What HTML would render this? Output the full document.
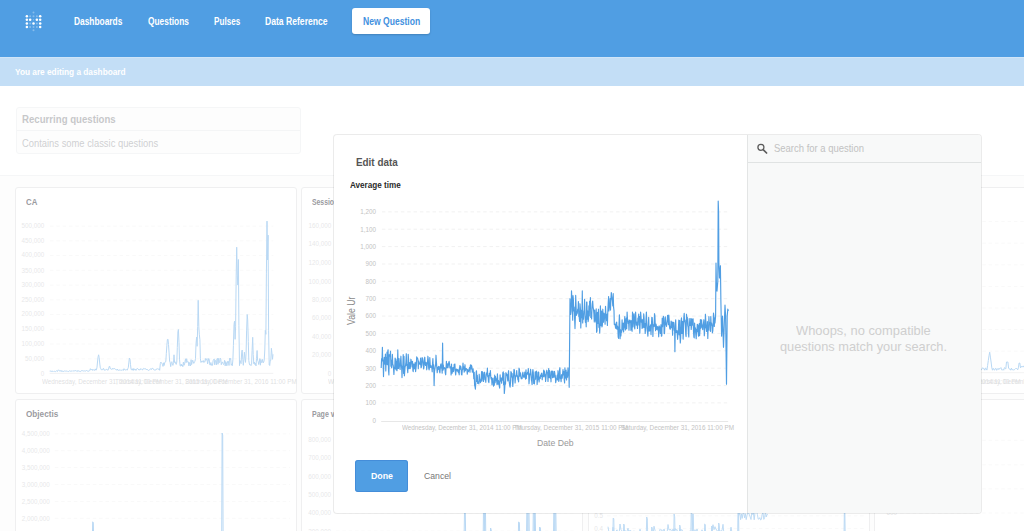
<!DOCTYPE html>
<html><head><meta charset="utf-8"><title>Dashboard</title>
<style>
html,body{margin:0;padding:0;}
body{width:1024px;height:531px;overflow:hidden;position:relative;background:#fff;font-family:"Liberation Sans", sans-serif;}
.abs{position:absolute;}
.t{position:absolute;white-space:nowrap;font-family:"Liberation Sans", sans-serif;}
.card{position:absolute;box-sizing:border-box;background:#fff;border:1px solid #d6d8da;border-radius:3px;}
#nav{position:absolute;left:0;top:0;width:1024px;height:57px;background:#509EE3;}
#edit{position:absolute;left:0;top:57px;width:1024px;height:28.5px;background:#C3DEF6;box-shadow:inset 0 1px 0 rgba(255,255,255,.22);}
#newq{position:absolute;left:352px;top:8.3px;width:78px;height:26px;background:#fff;border-radius:3px;box-shadow:0 1px 2px rgba(0,0,0,.18);}
#page{position:absolute;left:0;top:85px;width:1024px;height:446px;background:#fff;}
#dash{position:absolute;left:0;top:175px;width:1024px;height:356px;background:#f9fafb;border-top:1px solid #e6e8ea;box-sizing:border-box;}
#hdr{position:absolute;left:15.5px;top:106.6px;width:285.5px;height:47.8px;box-sizing:border-box;border:1px solid #e6e8ea;border-radius:3px;background:#fafafb;}
#hdr i{position:absolute;left:0;right:0;top:22.8px;height:1px;background:#e4e6e8;}
#veil{position:absolute;left:0;top:85px;width:1024px;height:446px;background:rgba(255,255,255,.6);}
#modal{position:absolute;left:334.2px;top:134.6px;width:647.2px;height:378.6px;background:#fff;border-radius:3px;box-shadow:0 0 0 1px rgba(0,0,0,.065),0 0 2px rgba(0,0,0,.05);overflow:hidden;}
#side{position:absolute;left:413px;top:0;width:234.2px;height:378.6px;background:#F8F9F9;border-left:1px solid #e3e5e5;box-sizing:border-box;}
#side i{position:absolute;left:0;right:0;top:27.2px;height:1px;background:#e0e3e3;}
#done{position:absolute;left:355.2px;top:460.2px;width:53.2px;height:32px;background:#509EE3;border-radius:3px;box-shadow:inset 0 0 0 1px rgba(60,130,210,.6);}
</style></head>
<body>
<div id="page"></div>
<div id="dash"></div>
<div id="hdr"><i></i></div>
<div class="card" style="left:14.7px;top:186.6px;width:282.4px;height:207.4px"></div><div class="card" style="left:14.7px;top:398.6px;width:282.4px;height:207.4px"></div><div class="card" style="left:301.1px;top:186.6px;width:282.4px;height:207.4px"></div><div class="card" style="left:301.1px;top:398.6px;width:282.4px;height:207.4px"></div><div class="card" style="left:587.5px;top:186.6px;width:282.4px;height:207.4px"></div><div class="card" style="left:587.5px;top:398.6px;width:282.4px;height:207.4px"></div><div class="card" style="left:873.9px;top:186.6px;width:282.4px;height:207.4px"></div><div class="card" style="left:873.9px;top:398.6px;width:282.4px;height:207.4px"></div>
<svg class="abs" width="1024" height="531" viewBox="0 0 1024 531" style="left:0;top:0">
<line x1="50" x2="273.3" y1="358.8" y2="358.8" stroke="#efefef" stroke-width="1" stroke-dasharray="3.5,2.83"/><line x1="50" x2="273.3" y1="344.0" y2="344.0" stroke="#efefef" stroke-width="1" stroke-dasharray="3.5,2.83"/><line x1="50" x2="273.3" y1="329.3" y2="329.3" stroke="#efefef" stroke-width="1" stroke-dasharray="3.5,2.83"/><line x1="50" x2="273.3" y1="314.5" y2="314.5" stroke="#efefef" stroke-width="1" stroke-dasharray="3.5,2.83"/><line x1="50" x2="273.3" y1="299.8" y2="299.8" stroke="#efefef" stroke-width="1" stroke-dasharray="3.5,2.83"/><line x1="50" x2="273.3" y1="285.1" y2="285.1" stroke="#efefef" stroke-width="1" stroke-dasharray="3.5,2.83"/><line x1="50" x2="273.3" y1="270.3" y2="270.3" stroke="#efefef" stroke-width="1" stroke-dasharray="3.5,2.83"/><line x1="50" x2="273.3" y1="255.6" y2="255.6" stroke="#efefef" stroke-width="1" stroke-dasharray="3.5,2.83"/><line x1="50" x2="273.3" y1="240.8" y2="240.8" stroke="#efefef" stroke-width="1" stroke-dasharray="3.5,2.83"/><line x1="50" x2="273.3" y1="226.1" y2="226.1" stroke="#efefef" stroke-width="1" stroke-dasharray="3.5,2.83"/>
<line x1="49.7" x2="273.3" y1="373.4" y2="373.4" stroke="#d6d6d8" stroke-width="0.8"/>
<path d="M49.7,371.2 L50.2,371.4 L50.8,370.8 L51.3,371.5 L51.9,371.0 L52.4,371.2 L53.0,371.5 L53.5,371.0 L54.1,371.6 L54.6,371.1 L55.2,371.5 L55.7,371.5 L56.3,371.1 L56.8,370.6 L57.4,371.5 L57.9,370.7 L58.5,369.8 L59.0,370.5 L59.6,370.9 L60.1,371.1 L60.7,370.5 L61.2,371.6 L61.8,370.6 L62.3,371.3 L62.9,371.4 L63.4,371.5 L64.0,371.3 L64.5,370.7 L65.1,371.4 L65.6,370.9 L66.2,370.9 L66.7,371.2 L67.3,371.0 L67.8,371.5 L68.4,371.5 L68.9,371.4 L69.5,370.8 L70.0,371.1 L70.6,371.2 L71.1,370.9 L71.7,371.1 L72.2,371.3 L72.8,370.7 L73.3,370.8 L73.9,371.3 L74.4,370.9 L75.0,371.0 L75.5,370.6 L76.1,370.8 L76.6,371.3 L77.2,370.5 L77.7,371.5 L78.3,371.1 L78.8,370.7 L79.4,371.4 L79.9,371.0 L80.5,371.6 L81.0,370.8 L81.6,370.7 L82.1,370.9 L82.7,370.6 L83.2,371.2 L83.8,370.8 L84.3,370.9 L84.9,370.9 L85.4,371.1 L86.0,370.6 L86.5,370.5 L87.1,371.1 L87.6,370.8 L88.2,371.5 L88.7,370.8 L89.3,370.9 L89.8,370.4 L90.4,368.7 L90.9,369.8 L91.5,369.6 L92.0,369.1 L92.6,370.4 L93.1,369.5 L93.7,370.1 L94.2,370.2 L94.8,370.3 L95.3,368.9 L95.9,370.2 L96.4,369.9 L97.0,367.2 L97.5,362.0 L98.1,356.8 L98.6,354.8 L99.2,357.6 L99.7,363.0 L100.3,367.9 L100.8,368.7 L101.4,369.9 L101.9,369.6 L102.5,369.7 L103.0,368.6 L103.6,368.5 L104.1,370.1 L104.7,370.1 L105.2,370.0 L105.8,370.0 L106.3,369.4 L106.9,369.2 L107.4,369.9 L108.0,370.4 L108.5,369.4 L109.1,366.8 L109.6,366.1 L110.2,368.2 L110.7,369.0 L111.3,369.4 L111.8,369.2 L112.4,368.4 L112.9,369.3 L113.5,368.6 L114.0,368.8 L114.6,368.6 L115.1,368.8 L115.7,369.6 L116.2,369.6 L116.8,370.2 L117.3,369.1 L117.9,370.3 L118.4,370.3 L119.0,370.0 L119.5,370.1 L120.1,369.7 L120.6,370.3 L121.2,370.4 L121.7,370.1 L122.3,370.2 L122.8,369.7 L123.4,370.4 L123.9,368.6 L124.5,369.2 L125.0,370.1 L125.6,369.9 L126.1,369.7 L126.7,369.7 L127.2,370.2 L127.8,368.7 L128.3,367.6 L128.9,362.1 L129.4,358.0 L130.0,359.3 L130.5,364.7 L131.1,369.5 L131.6,369.9 L132.2,368.7 L132.7,370.1 L133.3,370.4 L133.8,368.5 L134.4,369.3 L134.9,370.1 L135.5,369.3 L136.0,370.4 L136.6,369.3 L137.1,368.4 L137.7,368.7 L138.2,369.0 L138.8,369.9 L139.3,369.7 L139.9,370.1 L140.4,368.8 L141.0,369.3 L141.5,368.8 L142.1,369.8 L142.6,370.0 L143.2,368.8 L143.7,368.4 L144.3,368.7 L144.8,368.8 L145.4,368.7 L145.9,368.9 L146.5,370.0 L147.0,369.4 L147.6,369.7 L148.2,370.4 L148.7,370.4 L149.3,369.9 L149.8,369.9 L150.4,369.0 L150.9,368.5 L151.5,369.5 L152.0,368.5 L152.6,368.4 L153.1,368.5 L153.7,369.7 L154.2,370.0 L154.8,370.0 L155.3,370.0 L155.9,370.0 L156.4,369.1 L157.0,368.6 L157.5,368.7 L158.1,369.4 L158.6,369.1 L159.2,368.8 L159.7,370.3 L160.3,363.6 L160.8,362.1 L161.4,362.9 L161.9,363.1 L162.5,364.7 L163.0,366.4 L163.6,362.8 L164.1,365.5 L164.7,362.8 L165.2,361.8 L165.8,361.7 L166.3,353.7 L166.9,345.2 L167.4,339.5 L168.0,339.2 L168.5,344.5 L169.1,352.9 L169.6,361.0 L170.2,362.7 L170.7,366.6 L171.3,362.6 L171.8,361.7 L172.4,363.6 L172.9,365.4 L173.5,362.5 L174.0,354.8 L174.6,362.5 L175.1,361.8 L175.7,363.7 L176.2,364.4 L176.8,362.0 L177.3,347.6 L177.9,332.0 L178.4,329.5 L179.0,342.8 L179.5,359.2 L180.1,365.8 L180.6,366.1 L181.2,364.0 L181.7,366.0 L182.3,365.0 L182.8,366.7 L183.4,362.1 L183.9,365.4 L184.5,364.8 L185.0,361.4 L185.6,358.8 L186.1,362.7 L186.7,358.7 L187.2,362.0 L187.8,361.8 L188.3,361.8 L188.9,365.9 L189.4,362.5 L190.0,364.6 L190.5,366.0 L191.1,359.7 L191.6,364.6 L192.2,362.2 L192.7,360.2 L193.3,361.6 L193.8,363.4 L194.4,361.9 L194.9,361.6 L195.5,358.4 L196.0,343.8 L196.6,337.2 L197.1,346.3 L197.7,326.4 L198.2,300.3 L198.8,326.4 L199.3,334.2 L199.9,339.7 L200.4,358.8 L201.0,362.5 L201.5,361.1 L202.1,362.0 L202.6,361.9 L203.2,360.5 L203.7,362.4 L204.3,361.8 L204.8,362.2 L205.4,358.5 L205.9,360.4 L206.5,359.0 L207.0,358.5 L207.6,363.9 L208.1,361.6 L208.7,358.5 L209.2,359.3 L209.8,364.9 L210.3,365.0 L210.9,362.5 L211.4,365.4 L212.0,364.1 L212.5,365.4 L213.1,360.7 L213.6,359.8 L214.2,358.9 L214.7,364.8 L215.3,360.3 L215.8,360.8 L216.4,364.9 L216.9,359.0 L217.5,358.3 L218.0,364.3 L218.6,358.4 L219.1,362.8 L219.7,362.1 L220.2,358.1 L220.8,359.4 L221.3,364.7 L221.9,362.6 L222.4,361.9 L223.0,363.3 L223.5,364.5 L224.1,363.5 L224.6,360.3 L225.2,365.9 L225.7,361.6 L226.3,362.5 L226.8,365.9 L227.4,363.4 L227.9,361.0 L228.5,361.9 L229.0,365.5 L229.6,358.2 L230.1,359.7 L230.7,358.3 L231.2,365.2 L231.8,363.9 L232.3,365.7 L232.9,359.8 L233.4,345.5 L234.0,324.6 L234.5,321.2 L235.1,339.3 L235.6,326.8 L236.2,275.1 L236.7,247.2 L237.3,275.1 L237.8,285.1 L238.4,259.5 L238.9,325.4 L239.5,365.6 L240.0,360.5 L240.6,362.6 L241.1,363.6 L241.7,352.1 L242.2,350.0 L242.8,359.6 L243.3,365.3 L243.9,359.2 L244.4,352.2 L245.0,358.4 L245.5,362.4 L246.1,353.1 L246.6,330.9 L247.2,314.5 L247.7,319.9 L248.3,341.4 L248.8,360.6 L249.4,364.1 L249.9,365.1 L250.5,364.7 L251.0,365.6 L251.6,364.4 L252.1,350.4 L252.7,337.3 L253.2,354.5 L253.8,363.7 L254.3,362.0 L254.9,364.6 L255.4,363.3 L256.0,365.9 L256.5,358.7 L257.1,350.5 L257.6,360.2 L258.2,361.6 L258.7,364.5 L259.3,362.2 L259.8,358.6 L260.4,365.2 L260.9,359.5 L261.5,362.6 L262.0,362.1 L262.6,359.4 L263.1,362.9 L263.7,362.0 L264.2,360.5 L264.8,350.0 L265.3,330.4 L265.9,334.3 L266.4,273.9 L267.0,221.1 L267.5,260.0 L268.1,235.1 L268.6,330.8 L269.2,365.0 L269.7,365.5 L270.3,360.1 L270.8,360.4 L271.4,348.3 L271.9,352.7 L272.5,359.3 L273.0,354.3" fill="none" stroke="#509EE3" stroke-width="1"/>
<line x1="54.8" x2="290" y1="433.8" y2="433.8" stroke="#efefef" stroke-width="1" stroke-dasharray="3.5,2.83"/><line x1="54.8" x2="290" y1="450.7" y2="450.7" stroke="#efefef" stroke-width="1" stroke-dasharray="3.5,2.83"/><line x1="54.8" x2="290" y1="467.6" y2="467.6" stroke="#efefef" stroke-width="1" stroke-dasharray="3.5,2.83"/><line x1="54.8" x2="290" y1="484.5" y2="484.5" stroke="#efefef" stroke-width="1" stroke-dasharray="3.5,2.83"/><line x1="54.8" x2="290" y1="501.4" y2="501.4" stroke="#efefef" stroke-width="1" stroke-dasharray="3.5,2.83"/><line x1="54.8" x2="290" y1="518.3" y2="518.3" stroke="#efefef" stroke-width="1" stroke-dasharray="3.5,2.83"/><line x1="54.8" x2="290" y1="535.2" y2="535.2" stroke="#efefef" stroke-width="1" stroke-dasharray="3.5,2.83"/>
<path d="M221.7,540 L222.1,433.0 L222.7,435.0 L223.1,540 M92.3,540 L92.7,521.8 L93.3,522.6 L93.7,540 " fill="none" stroke="#509EE3" stroke-width="1"/>
<line x1="336" x2="576" y1="439.8" y2="439.8" stroke="#efefef" stroke-width="1" stroke-dasharray="3.5,2.83"/><line x1="336" x2="576" y1="458.1" y2="458.1" stroke="#efefef" stroke-width="1" stroke-dasharray="3.5,2.83"/><line x1="336" x2="576" y1="476.3" y2="476.3" stroke="#efefef" stroke-width="1" stroke-dasharray="3.5,2.83"/><line x1="336" x2="576" y1="494.6" y2="494.6" stroke="#efefef" stroke-width="1" stroke-dasharray="3.5,2.83"/><line x1="336" x2="576" y1="512.8" y2="512.8" stroke="#efefef" stroke-width="1" stroke-dasharray="3.5,2.83"/><line x1="336" x2="576" y1="531.0" y2="531.0" stroke="#efefef" stroke-width="1" stroke-dasharray="3.5,2.83"/>
<path d="M464.0,545 L464.5,512.0 L465.3,512.7 L465.8,545 M483.1,545 L483.6,500.0 L484.4,500.9 L484.9,545 M484.1,545 L484.6,504.0 L485.4,505.4 L485.9,545 M518.1,545 L518.6,522.0 L519.4,522.5 L519.9,545 M526.4,545 L526.9,505.0 L527.7,506.3 L528.2,545 M527.6,545 L528.1,503.0 L528.9,503.8 L529.4,545 M532.9,545 L533.4,503.0 L534.2,505.9 L534.7,545 M533.9,545 L534.4,506.0 L535.2,508.9 L535.7,545 M553.4,545 L553.9,504.0 L554.7,505.6 L555.2,545 M554.5,545 L555.0,509.0 L555.8,509.7 L556.3,545 M490.1,545 L490.6,528.0 L491.4,530.9 L491.9,545 M539.1,545 L539.6,527.0 L540.4,527.9 L540.9,545 " fill="none" stroke="#509EE3" stroke-width="1"/>
<line x1="607" x2="864" y1="515.8" y2="515.8" stroke="#efefef" stroke-width="1" stroke-dasharray="3.5,2.83"/><line x1="607" x2="864" y1="528.4" y2="528.4" stroke="#efefef" stroke-width="1" stroke-dasharray="3.5,2.83"/>
<path d="M608.0,526.7 L609.0,532.7 L610.0,534.6 L611.0,536.0 L612.0,535.4 L613.0,527.2 L614.0,534.4 L615.0,532.3 L616.0,531.4 L617.0,529.8 L618.0,533.7 L619.0,535.0 L620.0,524.0 L621.0,529.8 L622.0,530.9 L623.0,535.0 L624.0,532.5 L625.0,530.4 L626.0,531.9 L627.0,531.2 L628.0,528.2 L629.0,533.5 L630.0,530.1 L631.0,531.6 L632.0,531.2 L633.0,536.0 L634.0,530.8 L635.0,532.3 L636.0,535.5 L637.0,534.2 L638.0,534.1 L639.0,534.6 L640.0,529.2 L641.0,533.3 L642.0,531.2 L643.0,531.7 L644.0,535.5 L645.0,534.2 L646.0,533.9 L647.0,535.9 L648.0,534.1 L649.0,531.2 L650.0,534.0 L651.0,532.7 L652.0,535.2 L653.0,534.6 L654.0,526.2 L655.0,530.3 L656.0,532.9 L657.0,534.5 L658.0,534.5 L659.0,535.0 L660.0,529.3 L661.0,530.3 L662.0,529.8 L663.0,534.4 L664.0,529.0 L665.0,532.6 L666.0,533.9 L667.0,533.6 L668.0,524.5 L669.0,530.1 L670.0,529.5 L671.0,529.7 L672.0,533.4 L673.0,529.0 L674.0,533.5 L675.0,528.4 L676.0,530.2 L677.0,529.5 L678.0,534.1 L679.0,534.7 L680.0,529.3 L681.0,530.3 L682.0,529.6 L683.0,532.2 L684.0,535.7 L685.0,532.8 L686.0,531.5 L687.0,535.7 L688.0,535.1 L689.0,533.6 L690.0,530.8 L691.0,534.2 L692.0,533.9 L693.0,533.2 L694.0,534.9 L695.0,529.7 L696.0,534.5 L697.0,529.0 L698.0,535.0 L699.0,535.4 L700.0,535.4 L701.0,534.2 L702.0,529.8 L703.0,533.1 L704.0,532.3 L705.0,533.6 L706.0,534.1 L707.0,535.1 L708.0,531.6 L709.0,534.5 L710.0,534.3 L711.0,532.9 L712.0,530.1 L713.0,524.7 L714.0,529.7 L715.0,526.7 L716.0,529.5 L717.0,530.0 L718.0,534.3 L719.0,534.9 L720.0,531.2 L721.0,530.9 L722.0,530.6 L723.0,524.3 L724.0,534.4 L725.0,531.5 L726.0,535.1 L727.0,531.5 L728.0,535.2 L729.0,532.3 L730.0,533.3 L731.0,527.2 L732.0,532.8 L733.0,531.5 L734.0,532.7 L735.0,534.3 L736.0,531.1 L737.0,535.8 L738.0,531.3" fill="none" stroke="#509EE3" stroke-width="0.9"/>
<path d="M612.7,540 L613.2,518.0 L613.8,518.8 L614.3,540 M646.2,540 L646.7,517.0 L647.3,519.0 L647.8,540 M673.6,540 L674.1,514.0 L674.7,516.8 L675.2,540 M690.7,540 L691.2,513.0 L691.8,513.7 L692.3,540 M692.2,540 L692.7,514.0 L693.3,514.1 L693.8,540 M623.2,540 L623.7,524.0 L624.3,525.0 L624.8,540 M651.2,540 L651.7,527.0 L652.3,528.3 L652.8,540 M679.2,540 L679.7,525.0 L680.3,527.0 L680.8,540 M704.2,540 L704.7,524.0 L705.3,524.6 L705.8,540 M711.2,540 L711.7,526.0 L712.3,528.4 L712.8,540 M718.2,540 L718.7,523.0 L719.3,525.2 L719.8,540 " fill="none" stroke="#509EE3" stroke-width="0.9"/>
<path d="M739.0,515.5 L739.8,512.8 L740.6,519.7 L741.4,513.8 L742.2,518.4 L743.0,513.1 L743.8,513.0 L744.6,517.8 L745.4,513.7 L746.2,519.6 L747.0,515.5 L747.8,512.7 L748.6,513.0 L749.4,514.8 L750.2,517.0 L751.0,519.5 L751.8,512.3 L752.6,514.5 L753.4,512.9 L754.2,519.8 L755.0,512.3 L755.8,511.5 L756.6,511.5 L757.4,514.5 L758.2,519.1 L759.0,519.0 L759.8,517.6 L760.6,520.0 L761.4,519.4 L762.2,514.0 L763.0,512.7 L763.8,519.4 L764.6,517.7 L765.4,511.3 L766.2,517.0 L767.0,514.4 L767.8,514.4" fill="none" stroke="#509EE3" stroke-width="0.9"/>
<path d="M737.7,540 L738.1,505.0 L738.5,506.0 L738.9,540 M844.0,540 L844.4,508.0 L844.8,508.5 L845.2,540 " fill="none" stroke="#509EE3" stroke-width="1"/>
<line x1="900" x2="1024" y1="221.6" y2="221.6" stroke="#efefef" stroke-width="1" stroke-dasharray="3.5,2.83"/><line x1="900" x2="1024" y1="243.2" y2="243.2" stroke="#efefef" stroke-width="1" stroke-dasharray="3.5,2.83"/><line x1="900" x2="1024" y1="264.8" y2="264.8" stroke="#efefef" stroke-width="1" stroke-dasharray="3.5,2.83"/><line x1="900" x2="1024" y1="286.4" y2="286.4" stroke="#efefef" stroke-width="1" stroke-dasharray="3.5,2.83"/><line x1="900" x2="1024" y1="308.0" y2="308.0" stroke="#efefef" stroke-width="1" stroke-dasharray="3.5,2.83"/><line x1="900" x2="1024" y1="329.6" y2="329.6" stroke="#efefef" stroke-width="1" stroke-dasharray="3.5,2.83"/><line x1="900" x2="1024" y1="351.2" y2="351.2" stroke="#efefef" stroke-width="1" stroke-dasharray="3.5,2.83"/>
<line x1="900" x2="1024" y1="372.7" y2="372.7" stroke="#d6d6d8" stroke-width="0.8"/>
<path d="M975.0,367.6 L975.7,368.4 L976.4,368.6 L977.1,370.3 L977.8,367.9 L978.5,370.3 L979.2,368.2 L979.9,368.6 L980.6,369.9 L981.3,369.9 L982.0,368.8 L982.7,367.7 L983.4,368.9 L984.1,368.6 L984.8,370.2 L985.5,368.1 L986.2,368.6 L986.9,370.1 L987.6,365.5 L988.3,360.6 L989.0,355.7 L989.7,352.2 L990.4,357.1 L991.1,362.0 L991.8,367.8 L992.5,370.2 L993.2,368.3 L993.9,369.7 L994.6,370.1 L995.3,368.5 L996.0,368.4 L996.7,370.3 L997.4,369.3 L998.1,368.3 L998.8,369.6 L999.5,368.5 L1000.2,368.4 L1000.9,367.6 L1001.6,369.7 L1002.3,370.2 L1003.0,369.4 L1003.7,370.2 L1004.4,367.7 L1005.1,368.3 L1005.8,368.9 L1006.5,362.0 L1007.2,362.0 L1007.9,362.0 L1008.6,368.3 L1009.3,368.8 L1010.0,369.0 L1010.7,370.2 L1011.4,368.1 L1012.1,369.8 L1012.8,369.7 L1013.5,369.9 L1014.2,369.8 L1014.9,369.3 L1015.6,368.5 L1016.3,368.5 L1017.0,368.6 L1017.7,369.8 L1018.4,367.8 L1019.1,363.0 L1019.8,363.0 L1020.5,367.9 L1021.2,366.8 L1021.9,366.2 L1022.6,367.1 L1023.3,365.9 L1024.0,367.1 L1024.7,366.3 L1025.4,366.0" fill="none" stroke="#509EE3" stroke-width="1"/>
<line x1="900" x2="1024" y1="440.3" y2="440.3" stroke="#efefef" stroke-width="1" stroke-dasharray="3.5,2.83"/><line x1="900" x2="1024" y1="464.8" y2="464.8" stroke="#efefef" stroke-width="1" stroke-dasharray="3.5,2.83"/><line x1="900" x2="1024" y1="488.9" y2="488.9" stroke="#efefef" stroke-width="1" stroke-dasharray="3.5,2.83"/><line x1="900" x2="1024" y1="513.0" y2="513.0" stroke="#efefef" stroke-width="1" stroke-dasharray="3.5,2.83"/>
</svg>
<div class="t" style="top:112.84px;font-size:10.6px;line-height:13.78px;font-weight:700;color:#727479;transform:scaleX(0.9096);left:22.20px;transform-origin:0 50%;">Recurring questions</div><div class="t" style="top:136.63px;font-size:10.0px;line-height:13.0px;font-weight:400;color:#86888c;transform:scaleX(0.9381);left:22.00px;transform-origin:0 50%;">Contains some classic questions</div><div class="t" style="top:370.39px;font-size:6.3px;line-height:8.19px;font-weight:400;color:#c2c3c6;transform:scaleX(1.0000);right:979.70px;transform-origin:100% 50%;">0</div><div class="t" style="top:354.65px;font-size:6.3px;line-height:8.19px;font-weight:400;color:#c2c3c6;transform:scaleX(1.0000);right:979.70px;transform-origin:100% 50%;">50,000</div><div class="t" style="top:339.91px;font-size:6.3px;line-height:8.19px;font-weight:400;color:#c2c3c6;transform:scaleX(1.0000);right:979.70px;transform-origin:100% 50%;">100,000</div><div class="t" style="top:325.17px;font-size:6.3px;line-height:8.19px;font-weight:400;color:#c2c3c6;transform:scaleX(1.0000);right:979.70px;transform-origin:100% 50%;">150,000</div><div class="t" style="top:310.43px;font-size:6.3px;line-height:8.19px;font-weight:400;color:#c2c3c6;transform:scaleX(1.0000);right:979.70px;transform-origin:100% 50%;">200,000</div><div class="t" style="top:295.69px;font-size:6.3px;line-height:8.19px;font-weight:400;color:#c2c3c6;transform:scaleX(1.0000);right:979.70px;transform-origin:100% 50%;">250,000</div><div class="t" style="top:280.95px;font-size:6.3px;line-height:8.19px;font-weight:400;color:#c2c3c6;transform:scaleX(1.0000);right:979.70px;transform-origin:100% 50%;">300,000</div><div class="t" style="top:267.21px;font-size:6.3px;line-height:8.19px;font-weight:400;color:#c2c3c6;transform:scaleX(1.0000);right:979.70px;transform-origin:100% 50%;">350,000</div><div class="t" style="top:251.47px;font-size:6.3px;line-height:8.19px;font-weight:400;color:#c2c3c6;transform:scaleX(1.0000);right:979.70px;transform-origin:100% 50%;">400,000</div><div class="t" style="top:236.73px;font-size:6.3px;line-height:8.19px;font-weight:400;color:#c2c3c6;transform:scaleX(1.0000);right:979.70px;transform-origin:100% 50%;">450,000</div><div class="t" style="top:221.99px;font-size:6.3px;line-height:8.19px;font-weight:400;color:#c2c3c6;transform:scaleX(1.0000);right:979.70px;transform-origin:100% 50%;">500,000</div><div class="t" style="top:370.39px;font-size:6.3px;line-height:8.19px;font-weight:400;color:#c2c3c6;transform:scaleX(1.0000);right:692.70px;transform-origin:100% 50%;">0</div><div class="t" style="top:350.96px;font-size:6.3px;line-height:8.19px;font-weight:400;color:#c2c3c6;transform:scaleX(1.0000);right:692.70px;transform-origin:100% 50%;">20,000</div><div class="t" style="top:332.53px;font-size:6.3px;line-height:8.19px;font-weight:400;color:#c2c3c6;transform:scaleX(1.0000);right:692.70px;transform-origin:100% 50%;">40,000</div><div class="t" style="top:314.10px;font-size:6.3px;line-height:8.19px;font-weight:400;color:#c2c3c6;transform:scaleX(1.0000);right:692.70px;transform-origin:100% 50%;">60,000</div><div class="t" style="top:295.67px;font-size:6.3px;line-height:8.19px;font-weight:400;color:#c2c3c6;transform:scaleX(1.0000);right:692.70px;transform-origin:100% 50%;">80,000</div><div class="t" style="top:278.24px;font-size:6.3px;line-height:8.19px;font-weight:400;color:#c2c3c6;transform:scaleX(1.0000);right:692.70px;transform-origin:100% 50%;">100,000</div><div class="t" style="top:258.81px;font-size:6.3px;line-height:8.19px;font-weight:400;color:#c2c3c6;transform:scaleX(1.0000);right:692.70px;transform-origin:100% 50%;">120,000</div><div class="t" style="top:240.38px;font-size:6.3px;line-height:8.19px;font-weight:400;color:#c2c3c6;transform:scaleX(1.0000);right:692.70px;transform-origin:100% 50%;">140,000</div><div class="t" style="top:221.95px;font-size:6.3px;line-height:8.19px;font-weight:400;color:#c2c3c6;transform:scaleX(1.0000);right:692.70px;transform-origin:100% 50%;">160,000</div><div class="t" style="top:429.79px;font-size:6.3px;line-height:8.19px;font-weight:400;color:#c2c3c6;transform:scaleX(1.0000);right:974.20px;transform-origin:100% 50%;">4,500,000</div><div class="t" style="top:446.69px;font-size:6.3px;line-height:8.19px;font-weight:400;color:#c2c3c6;transform:scaleX(1.0000);right:974.20px;transform-origin:100% 50%;">4,000,000</div><div class="t" style="top:463.59px;font-size:6.3px;line-height:8.19px;font-weight:400;color:#c2c3c6;transform:scaleX(1.0000);right:974.20px;transform-origin:100% 50%;">3,500,000</div><div class="t" style="top:481.49px;font-size:6.3px;line-height:8.19px;font-weight:400;color:#c2c3c6;transform:scaleX(1.0000);right:974.20px;transform-origin:100% 50%;">3,000,000</div><div class="t" style="top:498.39px;font-size:6.3px;line-height:8.19px;font-weight:400;color:#c2c3c6;transform:scaleX(1.0000);right:974.20px;transform-origin:100% 50%;">2,500,000</div><div class="t" style="top:515.29px;font-size:6.3px;line-height:8.19px;font-weight:400;color:#c2c3c6;transform:scaleX(1.0000);right:974.20px;transform-origin:100% 50%;">2,000,000</div><div class="t" style="top:531.19px;font-size:6.3px;line-height:8.19px;font-weight:400;color:#c2c3c6;transform:scaleX(1.0000);right:974.20px;transform-origin:100% 50%;">1,500,000</div><div class="t" style="top:435.79px;font-size:6.3px;line-height:8.19px;font-weight:400;color:#c2c3c6;transform:scaleX(1.0000);right:693.00px;transform-origin:100% 50%;">800,000</div><div class="t" style="top:454.04px;font-size:6.3px;line-height:8.19px;font-weight:400;color:#c2c3c6;transform:scaleX(1.0000);right:693.00px;transform-origin:100% 50%;">700,000</div><div class="t" style="top:473.29px;font-size:6.3px;line-height:8.19px;font-weight:400;color:#c2c3c6;transform:scaleX(1.0000);right:693.00px;transform-origin:100% 50%;">600,000</div><div class="t" style="top:490.54px;font-size:6.3px;line-height:8.19px;font-weight:400;color:#c2c3c6;transform:scaleX(1.0000);right:693.00px;transform-origin:100% 50%;">500,000</div><div class="t" style="top:508.79px;font-size:6.3px;line-height:8.19px;font-weight:400;color:#c2c3c6;transform:scaleX(1.0000);right:693.00px;transform-origin:100% 50%;">400,000</div><div class="t" style="top:528.04px;font-size:6.3px;line-height:8.19px;font-weight:400;color:#c2c3c6;transform:scaleX(1.0000);right:693.00px;transform-origin:100% 50%;">300,000</div><div class="t" style="top:511.79px;font-size:6.3px;line-height:8.19px;font-weight:400;color:#c2c3c6;transform:scaleX(1.0000);right:421.00px;transform-origin:100% 50%;">0.5</div><div class="t" style="top:525.39px;font-size:6.3px;line-height:8.19px;font-weight:400;color:#c2c3c6;transform:scaleX(1.0000);right:421.00px;transform-origin:100% 50%;">0.4</div><div class="t" style="top:509.19px;font-size:6.3px;line-height:8.19px;font-weight:400;color:#c2c3c6;transform:scaleX(1.0000);right:127.00px;transform-origin:100% 50%;">600</div><div class="t" style="top:377.62px;font-size:6.3px;line-height:8.19px;font-weight:400;color:#aeb0b3;transform:scaleX(0.9990);left:42.00px;transform-origin:0 50%;">Wednesday, December 31, 2014 11:00 PM</div><div class="t" style="top:377.62px;font-size:6.3px;line-height:8.19px;font-weight:400;color:#aeb0b3;transform:scaleX(0.9998);left:115.00px;transform-origin:0 50%;">Thursday, December 31, 2015 11:00 PM</div><div class="t" style="top:377.62px;font-size:6.3px;line-height:8.19px;font-weight:400;color:#aeb0b3;transform:scaleX(1.0002);left:184.70px;transform-origin:0 50%;">Saturday, December 31, 2016 11:00 PM</div><div class="t" style="top:377.62px;font-size:6.3px;line-height:8.19px;font-weight:400;color:#aeb0b3;transform:scaleX(0.9990);left:328.40px;transform-origin:0 50%;">Wednesday, December 31, 2014 11:00 PM</div><div class="t" style="top:377.62px;font-size:6.3px;line-height:8.19px;font-weight:400;color:#aeb0b3;transform:scaleX(0.9998);left:974.20px;transform-origin:0 50%;">Thursday, December 31, 2015 11:00 PM</div><div class="t" style="top:377.62px;font-size:6.3px;line-height:8.19px;font-weight:400;color:#aeb0b3;transform:scaleX(0.9990);left:901.20px;transform-origin:0 50%;">Wednesday, December 31, 2014 11:00 PM</div>
<div id="veil"></div>
<div class="t" style="top:197.73px;font-size:8.2px;line-height:10.66px;font-weight:700;color:#9b9b9f;transform:scaleX(0.9554);left:25.80px;transform-origin:0 50%;">CA</div><div class="t" style="top:197.73px;font-size:8.2px;line-height:10.66px;font-weight:700;color:#9b9b9f;transform:scaleX(0.8344);left:312.00px;transform-origin:0 50%;">Sessions</div><div class="t" style="top:410.23px;font-size:8.2px;line-height:10.66px;font-weight:700;color:#9b9b9f;transform:scaleX(0.9965);left:25.60px;transform-origin:0 50%;">Objectis</div><div class="t" style="top:410.23px;font-size:8.2px;line-height:10.66px;font-weight:700;color:#9b9b9f;transform:scaleX(0.8583);left:312.10px;transform-origin:0 50%;">Page views</div>
<div id="nav"></div>
<div id="edit"></div>
<svg class="abs" width="60" height="40" viewBox="0 0 60 40" style="left:0;top:0"><circle cx="26.85" cy="16.2" r="1.25" fill="#fff"/><circle cx="26.85" cy="19.8" r="1.25" fill="#fff"/><circle cx="26.85" cy="23.4" r="1.25" fill="#fff"/><circle cx="26.85" cy="26.9" r="1.25" fill="#fff"/><circle cx="30.15" cy="16.2" r="1.0" fill="#fff" fill-opacity="0.32"/><circle cx="30.15" cy="19.8" r="1.25" fill="#fff"/><circle cx="30.15" cy="23.4" r="1.0" fill="#fff" fill-opacity="0.32"/><circle cx="30.15" cy="26.9" r="1.0" fill="#fff" fill-opacity="0.32"/><circle cx="33.5" cy="12.5" r="1.0" fill="#fff" fill-opacity="0.32"/><circle cx="33.5" cy="16.2" r="1.0" fill="#fff" fill-opacity="0.32"/><circle cx="33.5" cy="19.8" r="0.7" fill="#fff" fill-opacity="0.32"/><circle cx="33.5" cy="23.4" r="1.25" fill="#fff"/><circle cx="33.5" cy="26.9" r="1.0" fill="#fff" fill-opacity="0.32"/><circle cx="33.5" cy="30.3" r="1.0" fill="#fff" fill-opacity="0.32"/><circle cx="36.85" cy="16.2" r="1.0" fill="#fff" fill-opacity="0.32"/><circle cx="36.85" cy="19.8" r="1.25" fill="#fff"/><circle cx="36.85" cy="23.4" r="1.0" fill="#fff" fill-opacity="0.32"/><circle cx="36.85" cy="26.9" r="1.0" fill="#fff" fill-opacity="0.32"/><circle cx="40.2" cy="16.2" r="1.25" fill="#fff"/><circle cx="40.2" cy="19.8" r="1.25" fill="#fff"/><circle cx="40.2" cy="23.4" r="1.25" fill="#fff"/><circle cx="40.2" cy="26.9" r="1.25" fill="#fff"/></svg>
<div id="newq"></div>
<div class="t" style="top:14.74px;font-size:10.1px;line-height:13.13px;font-weight:700;color:#fff;transform:scaleX(0.8296);left:74.10px;transform-origin:0 50%;">Dashboards</div><div class="t" style="top:14.74px;font-size:10.1px;line-height:13.13px;font-weight:700;color:#fff;transform:scaleX(0.8286);left:147.90px;transform-origin:0 50%;">Questions</div><div class="t" style="top:14.74px;font-size:10.1px;line-height:13.13px;font-weight:700;color:#fff;transform:scaleX(0.8050);left:213.70px;transform-origin:0 50%;">Pulses</div><div class="t" style="top:14.74px;font-size:10.1px;line-height:13.13px;font-weight:700;color:#fff;transform:scaleX(0.8517);left:265.20px;transform-origin:0 50%;">Data Reference</div><div class="t" style="top:14.54px;font-size:10.1px;line-height:13.13px;font-weight:700;color:#4290de;transform:scaleX(0.8498);left:363.10px;transform-origin:0 50%;">New Question</div><div class="t" style="top:66.23px;font-size:9.6px;line-height:12.48px;font-weight:700;color:#fff;transform:scaleX(0.8621);left:15.20px;transform-origin:0 50%;">You are editing a dashboard</div>
<div id="modal"><div id="side"><i></i></div></div>
<div id="done"></div>
<svg class="abs" width="1024" height="531" viewBox="0 0 1024 531" style="left:0;top:0">
<line x1="381.9" x2="728.2" y1="402.9" y2="402.9" stroke="#f1f1f1" stroke-width="1" stroke-dasharray="3.5,2.83"/><line x1="381.9" x2="728.2" y1="385.6" y2="385.6" stroke="#f1f1f1" stroke-width="1" stroke-dasharray="3.5,2.83"/><line x1="381.9" x2="728.2" y1="368.2" y2="368.2" stroke="#f1f1f1" stroke-width="1" stroke-dasharray="3.5,2.83"/><line x1="381.9" x2="728.2" y1="350.8" y2="350.8" stroke="#f1f1f1" stroke-width="1" stroke-dasharray="3.5,2.83"/><line x1="381.9" x2="728.2" y1="333.4" y2="333.4" stroke="#f1f1f1" stroke-width="1" stroke-dasharray="3.5,2.83"/><line x1="381.9" x2="728.2" y1="316.1" y2="316.1" stroke="#f1f1f1" stroke-width="1" stroke-dasharray="3.5,2.83"/><line x1="381.9" x2="728.2" y1="298.7" y2="298.7" stroke="#f1f1f1" stroke-width="1" stroke-dasharray="3.5,2.83"/><line x1="381.9" x2="728.2" y1="281.3" y2="281.3" stroke="#f1f1f1" stroke-width="1" stroke-dasharray="3.5,2.83"/><line x1="381.9" x2="728.2" y1="264.0" y2="264.0" stroke="#f1f1f1" stroke-width="1" stroke-dasharray="3.5,2.83"/><line x1="381.9" x2="728.2" y1="246.6" y2="246.6" stroke="#f1f1f1" stroke-width="1" stroke-dasharray="3.5,2.83"/><line x1="381.9" x2="728.2" y1="229.2" y2="229.2" stroke="#f1f1f1" stroke-width="1" stroke-dasharray="3.5,2.83"/><line x1="381.9" x2="728.2" y1="211.9" y2="211.9" stroke="#f1f1f1" stroke-width="1" stroke-dasharray="3.5,2.83"/>
<line x1="381.2" x2="728.2" y1="421.5" y2="421.5" stroke="#e4e4e4" stroke-width="0.9"/>
<path d="M381.2,368.0 L381.6,358.5 L382.0,361.0 L382.4,347.3 L382.7,360.0 L383.1,360.0 L383.5,376.6 L383.9,360.9 L384.3,357.4 L384.7,362.7 L385.1,364.3 L385.4,354.0 L385.8,371.0 L386.2,357.8 L386.6,364.3 L387.0,352.2 L387.4,364.6 L387.8,350.7 L388.1,349.8 L388.5,370.2 L388.9,375.0 L389.3,354.7 L389.7,356.1 L390.1,355.6 L390.5,351.2 L390.9,366.2 L391.2,360.1 L391.6,367.8 L392.0,363.1 L392.4,354.4 L392.8,364.4 L393.2,365.1 L393.6,369.5 L393.9,374.5 L394.3,367.1 L394.7,368.5 L395.1,358.1 L395.5,369.0 L395.9,359.1 L396.3,369.9 L396.6,361.4 L397.0,370.7 L397.4,364.7 L397.8,349.9 L398.2,368.5 L398.6,368.5 L399.0,358.5 L399.3,364.7 L399.7,364.5 L400.1,369.4 L400.5,361.9 L400.9,356.2 L401.3,364.2 L401.7,368.7 L402.0,377.6 L402.4,366.2 L402.8,366.7 L403.2,354.6 L403.6,373.4 L404.0,356.4 L404.4,375.8 L404.7,372.0 L405.1,366.9 L405.5,365.7 L405.9,362.3 L406.3,353.7 L406.7,365.4 L407.1,364.6 L407.4,368.6 L407.8,372.6 L408.2,354.4 L408.6,359.9 L409.0,368.6 L409.4,367.4 L409.8,362.5 L410.2,368.7 L410.5,365.9 L410.9,359.2 L411.3,361.3 L411.7,361.6 L412.1,366.9 L412.5,361.3 L412.9,370.6 L413.2,371.7 L413.6,364.1 L414.0,364.0 L414.4,368.8 L414.8,368.7 L415.2,362.4 L415.6,371.6 L415.9,368.9 L416.3,365.8 L416.7,356.9 L417.1,358.4 L417.5,358.0 L417.9,359.3 L418.3,368.7 L418.6,361.1 L419.0,363.1 L419.4,363.9 L419.8,363.1 L420.2,364.6 L420.6,358.0 L421.0,367.6 L421.3,367.5 L421.7,365.2 L422.1,357.5 L422.5,358.6 L422.9,360.9 L423.3,365.3 L423.7,368.9 L424.0,366.6 L424.4,358.4 L424.8,357.2 L425.2,364.1 L425.6,365.5 L426.0,362.4 L426.4,363.1 L426.7,369.8 L427.1,365.9 L427.5,362.5 L427.9,356.2 L428.3,359.7 L428.7,368.1 L429.1,370.0 L429.5,367.3 L429.8,357.5 L430.2,364.5 L430.6,367.4 L431.0,365.5 L431.4,367.3 L431.8,367.7 L432.2,371.8 L432.5,363.7 L432.9,358.6 L433.3,368.6 L433.7,364.8 L434.1,385.6 L434.5,371.6 L434.9,369.0 L435.2,367.0 L435.6,365.0 L436.0,355.2 L436.4,361.7 L436.8,367.4 L437.2,372.8 L437.6,368.6 L437.9,367.1 L438.3,369.4 L438.7,366.4 L439.1,366.6 L439.5,371.6 L439.9,372.9 L440.3,368.3 L440.6,365.0 L441.0,363.9 L441.4,368.0 L441.8,368.3 L442.2,373.1 L442.6,343.0 L443.0,370.3 L443.3,364.7 L443.7,369.0 L444.1,368.4 L444.5,367.7 L444.9,368.0 L445.3,373.2 L445.7,374.8 L446.0,369.0 L446.4,361.4 L446.8,367.6 L447.2,367.6 L447.6,363.8 L448.0,367.6 L448.4,365.2 L448.8,362.4 L449.1,361.4 L449.5,363.7 L449.9,368.0 L450.3,366.7 L450.7,366.9 L451.1,375.0 L451.5,364.1 L451.8,370.7 L452.2,373.3 L452.6,368.0 L453.0,367.5 L453.4,371.6 L453.8,370.0 L454.2,364.4 L454.5,364.6 L454.9,364.0 L455.3,371.9 L455.7,374.9 L456.1,369.2 L456.5,369.1 L456.9,369.5 L457.2,371.1 L457.6,370.6 L458.0,369.4 L458.4,372.6 L458.8,370.7 L459.2,374.8 L459.6,367.9 L459.9,365.5 L460.3,369.1 L460.7,366.4 L461.1,368.1 L461.5,374.4 L461.9,375.0 L462.3,369.7 L462.6,369.6 L463.0,363.0 L463.4,368.8 L463.8,366.9 L464.2,372.2 L464.6,369.6 L465.0,364.7 L465.3,370.8 L465.7,368.7 L466.1,368.5 L466.5,368.7 L466.9,370.2 L467.3,374.2 L467.7,369.6 L468.1,370.9 L468.4,371.7 L468.8,370.6 L469.2,368.6 L469.6,367.4 L470.0,372.1 L470.4,365.0 L470.8,364.9 L471.1,369.0 L471.5,365.4 L471.9,366.9 L472.3,372.2 L472.7,370.8 L473.1,368.9 L473.5,373.4 L473.8,378.6 L474.2,372.3 L474.6,385.3 L475.0,386.7 L475.4,389.2 L475.8,382.5 L476.2,371.7 L476.5,370.8 L476.9,381.5 L477.3,375.3 L477.7,383.4 L478.1,381.8 L478.5,382.3 L478.9,383.9 L479.2,374.2 L479.6,378.8 L480.0,380.4 L480.4,382.6 L480.8,381.3 L481.2,377.7 L481.6,371.5 L481.9,381.1 L482.3,371.5 L482.7,375.0 L483.1,377.7 L483.5,381.5 L483.9,372.6 L484.3,375.8 L484.6,372.2 L485.0,379.7 L485.4,378.5 L485.8,382.3 L486.2,374.8 L486.6,372.9 L487.0,375.0 L487.4,368.0 L487.7,376.7 L488.1,375.6 L488.5,381.6 L488.9,382.6 L489.3,373.4 L489.7,373.3 L490.1,375.7 L490.4,370.5 L490.8,376.8 L491.2,379.2 L491.6,377.6 L492.0,384.7 L492.4,379.0 L492.8,381.4 L493.1,378.1 L493.5,386.2 L493.9,383.0 L494.3,385.3 L494.7,375.0 L495.1,382.6 L495.5,376.6 L495.8,378.5 L496.2,381.0 L496.6,378.9 L497.0,384.5 L497.4,373.9 L497.8,380.4 L498.2,384.2 L498.5,380.6 L498.9,382.4 L499.3,386.3 L499.7,388.1 L500.1,374.8 L500.5,381.1 L500.9,379.6 L501.2,378.2 L501.6,383.1 L502.0,377.9 L502.4,380.1 L502.8,372.8 L503.2,371.9 L503.6,384.7 L503.9,373.2 L504.3,393.4 L504.7,389.1 L505.1,381.8 L505.5,384.2 L505.9,372.7 L506.3,373.5 L506.7,375.4 L507.0,374.6 L507.4,377.6 L507.8,380.9 L508.2,373.6 L508.6,370.7 L509.0,380.2 L509.4,383.2 L509.7,385.5 L510.1,387.2 L510.5,382.9 L510.9,371.7 L511.3,372.1 L511.7,377.0 L512.1,373.5 L512.4,380.5 L512.8,386.5 L513.2,379.4 L513.6,374.9 L514.0,369.3 L514.4,370.3 L514.8,377.1 L515.1,383.0 L515.5,377.8 L515.9,375.8 L516.3,375.1 L516.7,370.5 L517.1,376.4 L517.5,375.8 L517.8,379.3 L518.2,379.8 L518.6,381.9 L519.0,368.1 L519.4,369.1 L519.8,376.2 L520.2,374.2 L520.5,372.8 L520.9,377.1 L521.3,378.8 L521.7,377.3 L522.1,378.7 L522.5,374.0 L522.9,372.2 L523.2,374.6 L523.6,376.8 L524.0,377.3 L524.4,376.0 L524.8,372.1 L525.2,377.0 L525.6,379.2 L526.0,369.8 L526.3,378.5 L526.7,373.7 L527.1,374.4 L527.5,372.3 L527.9,373.9 L528.3,368.6 L528.7,375.1 L529.0,383.8 L529.4,378.4 L529.8,373.7 L530.2,374.6 L530.6,369.3 L531.0,374.3 L531.4,380.0 L531.7,381.1 L532.1,384.6 L532.5,372.8 L532.9,369.5 L533.3,372.5 L533.7,383.5 L534.1,381.5 L534.4,384.0 L534.8,378.7 L535.2,371.9 L535.6,379.2 L536.0,372.9 L536.4,371.1 L536.8,372.4 L537.1,384.5 L537.5,379.4 L537.9,379.8 L538.3,372.0 L538.7,372.3 L539.1,381.9 L539.5,377.4 L539.8,378.8 L540.2,378.6 L540.6,375.1 L541.0,376.4 L541.4,373.5 L541.8,373.1 L542.2,379.6 L542.5,375.3 L542.9,377.0 L543.3,374.5 L543.7,370.0 L544.1,376.8 L544.5,371.1 L544.9,374.8 L545.3,374.7 L545.6,381.4 L546.0,377.5 L546.4,373.1 L546.8,370.2 L547.2,372.5 L547.6,372.5 L548.0,381.5 L548.3,375.3 L548.7,368.6 L549.1,377.4 L549.5,370.5 L549.9,372.4 L550.3,378.5 L550.7,375.9 L551.0,381.8 L551.4,371.1 L551.8,372.9 L552.2,371.1 L552.6,377.6 L553.0,371.3 L553.4,377.2 L553.7,377.1 L554.1,377.1 L554.5,371.3 L554.9,374.2 L555.3,375.6 L555.7,382.7 L556.1,380.4 L556.4,378.8 L556.8,378.3 L557.2,375.2 L557.6,379.9 L558.0,370.7 L558.4,376.7 L558.8,381.5 L559.1,379.6 L559.5,369.8 L559.9,367.7 L560.3,378.3 L560.7,378.1 L561.1,381.6 L561.5,374.9 L561.8,374.6 L562.2,378.3 L562.6,373.7 L563.0,369.5 L563.4,375.0 L563.8,371.5 L564.2,379.8 L564.6,383.0 L564.9,367.8 L565.3,378.1 L565.7,376.3 L566.1,370.1 L566.5,380.0 L566.9,374.7 L567.3,372.0 L567.6,377.2 L568.0,367.8 L568.4,375.1 L568.8,370.6 L569.2,387.3 L569.6,344.0 L570.0,298.7 L570.3,313.9 L570.7,314.5 L571.1,311.2 L571.5,290.9 L571.9,299.0 L572.3,304.6 L572.7,320.2 L573.0,295.5 L573.4,299.9 L573.8,311.0 L574.2,307.1 L574.6,318.6 L575.0,328.6 L575.4,315.0 L575.7,295.4 L576.1,307.1 L576.5,315.3 L576.9,313.3 L577.3,313.4 L577.7,309.0 L578.1,309.9 L578.4,301.5 L578.8,316.4 L579.2,316.9 L579.6,321.5 L580.0,303.7 L580.4,308.5 L580.8,328.0 L581.1,319.6 L581.5,310.2 L581.9,317.7 L582.3,290.9 L582.7,323.0 L583.1,313.8 L583.5,319.1 L583.9,310.9 L584.2,311.0 L584.6,299.4 L585.0,314.6 L585.4,322.3 L585.8,317.2 L586.2,326.8 L586.6,302.1 L586.9,302.0 L587.3,319.1 L587.7,311.1 L588.1,321.7 L588.5,319.1 L588.9,305.9 L589.3,315.9 L589.6,301.3 L590.0,307.9 L590.4,297.6 L590.8,317.5 L591.2,313.5 L591.6,319.0 L592.0,308.3 L592.3,303.6 L592.7,301.1 L593.1,307.3 L593.5,309.4 L593.9,313.9 L594.3,321.9 L594.7,310.1 L595.0,320.3 L595.4,316.0 L595.8,321.9 L596.2,308.9 L596.6,332.3 L597.0,330.9 L597.4,312.7 L597.7,312.3 L598.1,323.5 L598.5,309.2 L598.9,327.3 L599.3,323.8 L599.7,333.1 L600.1,323.8 L600.4,305.9 L600.8,316.5 L601.2,325.7 L601.6,311.1 L602.0,326.9 L602.4,324.8 L602.8,309.2 L603.2,318.7 L603.5,322.2 L603.9,313.1 L604.3,314.3 L604.7,317.2 L605.1,324.2 L605.5,306.4 L605.9,313.9 L606.2,315.3 L606.6,320.7 L607.0,314.0 L607.4,325.4 L607.8,311.9 L608.2,303.6 L608.6,296.6 L608.9,310.9 L609.3,306.6 L609.7,307.0 L610.1,298.6 L610.5,310.1 L610.9,298.9 L611.3,292.6 L611.6,295.5 L612.0,298.9 L612.4,300.7 L612.8,306.0 L613.2,293.5 L613.6,307.4 L614.0,310.6 L614.3,324.6 L614.7,324.8 L615.1,324.2 L615.5,327.6 L615.9,328.4 L616.3,322.6 L616.7,322.2 L617.0,329.2 L617.4,326.1 L617.8,326.9 L618.2,337.0 L618.6,338.4 L619.0,324.7 L619.4,314.8 L619.7,321.2 L620.1,338.7 L620.5,329.7 L620.9,336.0 L621.3,330.5 L621.7,332.3 L622.1,319.8 L622.4,329.9 L622.8,325.1 L623.2,323.1 L623.6,331.9 L624.0,327.7 L624.4,323.2 L624.8,316.6 L625.2,327.7 L625.5,329.9 L625.9,320.6 L626.3,318.1 L626.7,328.8 L627.1,312.0 L627.5,319.0 L627.9,319.9 L628.2,323.5 L628.6,321.3 L629.0,330.2 L629.4,320.8 L629.8,320.0 L630.2,322.4 L630.6,320.8 L630.9,330.3 L631.3,326.7 L631.7,320.5 L632.1,331.3 L632.5,312.0 L632.9,327.0 L633.3,320.8 L633.6,315.7 L634.0,313.7 L634.4,326.4 L634.8,329.0 L635.2,317.9 L635.6,312.1 L636.0,319.9 L636.3,325.1 L636.7,324.0 L637.1,322.2 L637.5,328.4 L637.9,318.2 L638.3,320.3 L638.7,314.0 L639.0,325.1 L639.4,316.6 L639.8,333.3 L640.2,322.9 L640.6,312.1 L641.0,316.5 L641.4,322.1 L641.7,319.7 L642.1,328.4 L642.5,324.8 L642.9,319.4 L643.3,327.6 L643.7,313.8 L644.1,318.1 L644.5,327.5 L644.8,323.3 L645.2,333.5 L645.6,328.2 L646.0,319.3 L646.4,312.1 L646.8,323.6 L647.2,330.3 L647.5,332.1 L647.9,336.1 L648.3,325.5 L648.7,317.4 L649.1,331.1 L649.5,326.6 L649.9,326.3 L650.2,330.6 L650.6,324.8 L651.0,334.6 L651.4,326.0 L651.8,317.4 L652.2,317.5 L652.6,324.3 L652.9,336.5 L653.3,324.9 L653.7,325.4 L654.1,326.5 L654.5,313.7 L654.9,315.6 L655.3,326.8 L655.6,330.7 L656.0,324.0 L656.4,326.1 L656.8,329.4 L657.2,328.2 L657.6,326.6 L658.0,330.3 L658.3,327.4 L658.7,336.8 L659.1,325.9 L659.5,328.2 L659.9,327.1 L660.3,333.5 L660.7,328.3 L661.0,324.7 L661.4,336.2 L661.8,335.9 L662.2,318.2 L662.6,326.6 L663.0,319.3 L663.4,316.4 L663.8,318.7 L664.1,333.3 L664.5,333.7 L664.9,324.7 L665.3,316.8 L665.7,323.9 L666.1,324.7 L666.5,326.4 L666.8,323.1 L667.2,320.7 L667.6,315.4 L668.0,319.1 L668.4,324.7 L668.8,315.0 L669.2,320.2 L669.5,326.7 L669.9,328.9 L670.3,329.2 L670.7,326.1 L671.1,321.0 L671.5,327.7 L671.9,322.0 L672.2,323.2 L672.6,335.2 L673.0,322.0 L673.4,325.8 L673.8,322.6 L674.2,330.2 L674.6,329.2 L674.9,351.7 L675.3,325.3 L675.7,319.9 L676.1,332.4 L676.5,332.4 L676.9,330.6 L677.3,335.0 L677.6,339.3 L678.0,332.9 L678.4,329.2 L678.8,320.1 L679.2,334.8 L679.6,320.5 L680.0,336.3 L680.3,343.0 L680.7,337.7 L681.1,320.6 L681.5,317.8 L681.9,333.5 L682.3,328.2 L682.7,321.3 L683.1,339.1 L683.4,332.4 L683.8,317.9 L684.2,313.4 L684.6,321.7 L685.0,320.0 L685.4,325.5 L685.8,335.0 L686.1,336.6 L686.5,314.2 L686.9,318.5 L687.3,317.3 L687.7,325.4 L688.1,327.0 L688.5,334.2 L688.8,336.9 L689.2,318.5 L689.6,325.7 L690.0,324.0 L690.4,325.3 L690.8,318.5 L691.2,329.4 L691.5,326.2 L691.9,318.8 L692.3,320.2 L692.7,325.2 L693.1,318.8 L693.5,331.4 L693.9,337.1 L694.2,337.9 L694.6,323.1 L695.0,332.0 L695.4,327.9 L695.8,334.4 L696.2,338.7 L696.6,329.1 L696.9,331.6 L697.3,324.3 L697.7,325.3 L698.1,332.3 L698.5,336.1 L698.9,325.3 L699.3,323.6 L699.6,335.7 L700.0,330.4 L700.4,319.5 L700.8,328.3 L701.2,324.3 L701.6,319.9 L702.0,327.2 L702.4,327.5 L702.7,329.6 L703.1,324.8 L703.5,323.1 L703.9,319.7 L704.3,335.8 L704.7,329.2 L705.1,327.6 L705.4,314.2 L705.8,320.6 L706.2,327.0 L706.6,331.5 L707.0,331.2 L707.4,321.6 L707.8,338.4 L708.1,329.1 L708.5,330.3 L708.9,316.5 L709.3,324.0 L709.7,322.5 L710.1,330.4 L710.5,331.4 L710.8,316.6 L711.2,325.3 L711.6,323.1 L712.0,325.6 L712.4,332.8 L712.8,330.9 L713.2,322.6 L713.5,313.1 L713.9,316.1 L714.3,326.5 L714.7,318.0 L715.0,323.0 L715.6,316.1 L716.0,263.1 L716.5,288.3 L717.0,291.1 L717.8,281.3 L718.2,201.1 L718.6,211.9 L718.9,264.0 L719.5,277.9 L720.4,265.7 L720.9,302.2 L721.6,336.1 L722.5,316.1 L723.5,347.3 L724.3,323.0 L725.0,305.0 L725.6,316.1 L726.5,384.2 L727.2,316.1 L727.8,309.1 L728.4,310.9" fill="none" stroke="#509EE3" stroke-width="1.15" stroke-linejoin="round"/>
<g fill="none" stroke="#5c5c5c" stroke-linecap="round"><circle cx="760.9" cy="147.3" r="3.0" stroke-width="1.3"/><line x1="763.4" y1="149.8" x2="766.6" y2="153" stroke-width="1.7"/></g>
</svg>
<div class="t" style="top:154.64px;font-size:11.0px;line-height:14.3px;font-weight:700;color:#555;transform:scaleX(0.8977);left:355.70px;transform-origin:0 50%;">Edit data</div><div class="t" style="top:180.73px;font-size:8.2px;line-height:10.66px;font-weight:700;color:#2a2a2a;transform:scaleX(0.9936);left:350.20px;transform-origin:0 50%;">Average time</div><div class="t" style="top:417.42px;font-size:6.3px;line-height:8.19px;font-weight:400;color:#c3c3c3;transform:scaleX(1.0000);right:648.10px;transform-origin:100% 50%;">0</div><div class="t" style="top:399.05px;font-size:6.3px;line-height:8.19px;font-weight:400;color:#c3c3c3;transform:scaleX(1.0000);right:648.10px;transform-origin:100% 50%;">100</div><div class="t" style="top:381.68px;font-size:6.3px;line-height:8.19px;font-weight:400;color:#c3c3c3;transform:scaleX(1.0000);right:648.10px;transform-origin:100% 50%;">200</div><div class="t" style="top:365.31px;font-size:6.3px;line-height:8.19px;font-weight:400;color:#c3c3c3;transform:scaleX(1.0000);right:648.10px;transform-origin:100% 50%;">300</div><div class="t" style="top:346.94px;font-size:6.3px;line-height:8.19px;font-weight:400;color:#c3c3c3;transform:scaleX(1.0000);right:648.10px;transform-origin:100% 50%;">400</div><div class="t" style="top:329.57px;font-size:6.3px;line-height:8.19px;font-weight:400;color:#c3c3c3;transform:scaleX(1.0000);right:648.10px;transform-origin:100% 50%;">500</div><div class="t" style="top:312.20px;font-size:6.3px;line-height:8.19px;font-weight:400;color:#c3c3c3;transform:scaleX(1.0000);right:648.10px;transform-origin:100% 50%;">600</div><div class="t" style="top:294.83px;font-size:6.3px;line-height:8.19px;font-weight:400;color:#c3c3c3;transform:scaleX(1.0000);right:648.10px;transform-origin:100% 50%;">700</div><div class="t" style="top:278.46px;font-size:6.3px;line-height:8.19px;font-weight:400;color:#c3c3c3;transform:scaleX(1.0000);right:648.10px;transform-origin:100% 50%;">800</div><div class="t" style="top:260.09px;font-size:6.3px;line-height:8.19px;font-weight:400;color:#c3c3c3;transform:scaleX(1.0000);right:648.10px;transform-origin:100% 50%;">900</div><div class="t" style="top:242.72px;font-size:6.3px;line-height:8.19px;font-weight:400;color:#c3c3c3;transform:scaleX(1.0000);right:648.10px;transform-origin:100% 50%;">1,000</div><div class="t" style="top:226.35px;font-size:6.3px;line-height:8.19px;font-weight:400;color:#c3c3c3;transform:scaleX(1.0000);right:648.10px;transform-origin:100% 50%;">1,100</div><div class="t" style="top:207.98px;font-size:6.3px;line-height:8.19px;font-weight:400;color:#c3c3c3;transform:scaleX(1.0000);right:648.10px;transform-origin:100% 50%;">1,200</div><div class="t" style="top:424.12px;font-size:6.3px;line-height:8.19px;font-weight:400;color:#c3c3c3;transform:scaleX(0.9998);left:402.20px;transform-origin:0 50%;">Wednesday, December 31, 2014 11:00 PM</div><div class="t" style="top:424.12px;font-size:6.3px;line-height:8.19px;font-weight:400;color:#c3c3c3;transform:scaleX(1.0095);left:513.50px;transform-origin:0 50%;">Thursday, December 31, 2015 11:00 PM</div><div class="t" style="top:424.12px;font-size:6.3px;line-height:8.19px;font-weight:400;color:#c3c3c3;transform:scaleX(1.0109);left:621.00px;transform-origin:0 50%;">Saturday, December 31, 2016 11:00 PM</div><div class="t" style="top:437.23px;font-size:9.4px;line-height:12.22px;font-weight:400;color:#9a9a9a;transform:scaleX(0.9240);left:536.60px;transform-origin:0 50%;">Date Deb</div><div class="t" style="top:470.13px;font-size:9.7px;line-height:12.61px;font-weight:700;color:#fff;transform:scaleX(0.9084);left:371.00px;transform-origin:0 50%;">Done</div><div class="t" style="top:470.13px;font-size:9.7px;line-height:12.61px;font-weight:400;color:#777;transform:scaleX(0.8953);left:424.00px;transform-origin:0 50%;">Cancel</div><div class="t" style="top:142.04px;font-size:10.2px;line-height:13.26px;font-weight:400;color:#c2c2c2;transform:scaleX(0.9293);left:773.50px;transform-origin:0 50%;">Search for a question</div><div class="t" style="top:321.55px;font-size:13.2px;line-height:17.16px;font-weight:400;color:#cfcfcf;transform:scaleX(0.9781);left:796.30px;transform-origin:0 50%;">Whoops, no compatible</div><div class="t" style="top:337.65px;font-size:13.2px;line-height:17.16px;font-weight:400;color:#cfcfcf;transform:scaleX(0.9694);left:780.20px;transform-origin:0 50%;">questions match your search.</div><div class="t" style="left:354.9px;top:315.04px;font-size:10.0px;line-height:13.0px;color:#8a8a8a;transform-origin:0 9.96px;transform:rotate(-90deg) scaleX(0.8678);">Vale Ur</div>
</body></html>
